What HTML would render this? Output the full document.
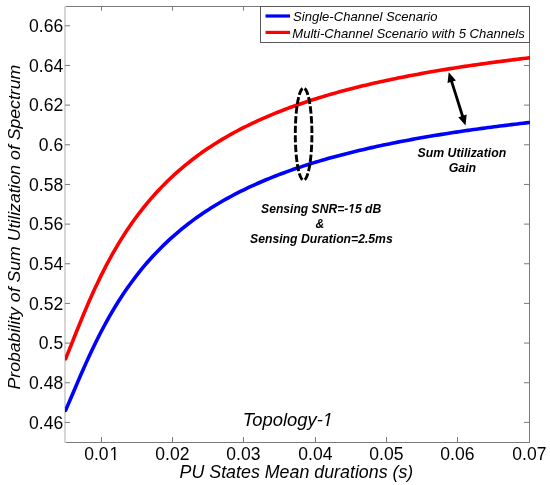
<!DOCTYPE html>
<html><head><meta charset="utf-8"><title>Probability of Sum Utilization of Spectrum</title>
<style>
html,body{margin:0;padding:0;background:#fff;}
body{width:550px;height:485px;overflow:hidden;}
svg{display:block;}
text{font-family:'Liberation Sans', Arial, Helvetica, sans-serif;fill:#000;}
.i{font-style:italic;}
.b{font-weight:bold;}
</style></head><body>
<svg width="550" height="485" viewBox="0 0 550 485">
<rect x="0" y="0" width="550" height="485" fill="#fff"/>

<text font-size="18" text-anchor="middle" transform="translate(101.79,460.4) scale(0.975,1)">0.0<tspan dx="1.0">1</tspan></text>
<text font-size="18" text-anchor="middle" transform="translate(172.40,460.4) scale(0.975,1)">0.02</text>
<text font-size="18" text-anchor="middle" transform="translate(243.40,460.4) scale(0.975,1)">0.03</text>
<text font-size="18" text-anchor="middle" transform="translate(315.40,460.4) scale(0.975,1)">0.04</text>
<text font-size="18" text-anchor="middle" transform="translate(386.40,460.4) scale(0.975,1)">0.05</text>
<text font-size="18" text-anchor="middle" transform="translate(457.40,460.4) scale(0.975,1)">0.06</text>
<text font-size="18" text-anchor="middle" transform="translate(529.40,460.4) scale(0.975,1)">0.07</text>
<text font-size="18" text-anchor="end" transform="translate(63.2,428.5) scale(0.975,1)">0.46</text>
<text font-size="18" text-anchor="end" transform="translate(63.2,388.8) scale(0.975,1)">0.48</text>
<text font-size="18" text-anchor="end" transform="translate(63.2,349.2) scale(0.975,1)">0.5</text>
<text font-size="18" text-anchor="end" transform="translate(63.2,309.5) scale(0.975,1)">0.52</text>
<text font-size="18" text-anchor="end" transform="translate(63.2,269.9) scale(0.975,1)">0.54</text>
<text font-size="18" text-anchor="end" transform="translate(63.2,230.2) scale(0.975,1)">0.56</text>
<text font-size="18" text-anchor="end" transform="translate(63.2,190.5) scale(0.975,1)">0.58</text>
<text font-size="18" text-anchor="end" transform="translate(63.2,150.9) scale(0.975,1)">0.6</text>
<text font-size="18" text-anchor="end" transform="translate(63.2,111.2) scale(0.975,1)">0.62</text>
<text font-size="18" text-anchor="end" transform="translate(63.2,71.6) scale(0.975,1)">0.64</text>
<text font-size="18" text-anchor="end" transform="translate(63.2,31.9) scale(0.975,1)">0.66</text>
<line x1="65" y1="6.5" x2="530" y2="6.5" stroke="#7a7a7a" stroke-width="1"/>
<line x1="65" y1="442.5" x2="530" y2="442.5" stroke="#7a7a7a" stroke-width="1"/>
<line x1="65.0" y1="6" x2="65.0" y2="443" stroke="#d6d6d6" stroke-width="2"/>
<line x1="529.5" y1="6" x2="529.5" y2="443" stroke="#7a7a7a" stroke-width="1"/>
<line x1="101.5" y1="442" x2="101.5" y2="437" stroke="#7a7a7a" stroke-width="1"/>
<line x1="101.5" y1="7" x2="101.5" y2="10.6" stroke="#7a7a7a" stroke-width="1"/>
<line x1="172.5" y1="442" x2="172.5" y2="437" stroke="#7a7a7a" stroke-width="1"/>
<line x1="172.5" y1="7" x2="172.5" y2="10.6" stroke="#7a7a7a" stroke-width="1"/>
<line x1="243.5" y1="442" x2="243.5" y2="437" stroke="#7a7a7a" stroke-width="1"/>
<line x1="243.5" y1="7" x2="243.5" y2="10.6" stroke="#7a7a7a" stroke-width="1"/>
<line x1="315.5" y1="442" x2="315.5" y2="437" stroke="#7a7a7a" stroke-width="1"/>
<line x1="315.5" y1="7" x2="315.5" y2="10.6" stroke="#7a7a7a" stroke-width="1"/>
<line x1="386.5" y1="442" x2="386.5" y2="437" stroke="#7a7a7a" stroke-width="1"/>
<line x1="386.5" y1="7" x2="386.5" y2="10.6" stroke="#7a7a7a" stroke-width="1"/>
<line x1="457.5" y1="442" x2="457.5" y2="437" stroke="#7a7a7a" stroke-width="1"/>
<line x1="457.5" y1="7" x2="457.5" y2="10.6" stroke="#7a7a7a" stroke-width="1"/>
<line x1="529.5" y1="442" x2="529.5" y2="437" stroke="#7a7a7a" stroke-width="1"/>
<line x1="529.5" y1="7" x2="529.5" y2="10.6" stroke="#7a7a7a" stroke-width="1"/>
<line x1="65" y1="422.40" x2="70" y2="422.40" stroke="#7a7a7a" stroke-width="1"/>
<line x1="529" y1="422.40" x2="524" y2="422.40" stroke="#7a7a7a" stroke-width="1"/>
<line x1="65" y1="382.74" x2="70" y2="382.74" stroke="#7a7a7a" stroke-width="1"/>
<line x1="529" y1="382.74" x2="524" y2="382.74" stroke="#7a7a7a" stroke-width="1"/>
<line x1="65" y1="343.08" x2="70" y2="343.08" stroke="#7a7a7a" stroke-width="1"/>
<line x1="529" y1="343.08" x2="524" y2="343.08" stroke="#7a7a7a" stroke-width="1"/>
<line x1="65" y1="303.42" x2="70" y2="303.42" stroke="#7a7a7a" stroke-width="1"/>
<line x1="529" y1="303.42" x2="524" y2="303.42" stroke="#7a7a7a" stroke-width="1"/>
<line x1="65" y1="263.76" x2="70" y2="263.76" stroke="#7a7a7a" stroke-width="1"/>
<line x1="529" y1="263.76" x2="524" y2="263.76" stroke="#7a7a7a" stroke-width="1"/>
<line x1="65" y1="224.10" x2="70" y2="224.10" stroke="#7a7a7a" stroke-width="1"/>
<line x1="529" y1="224.10" x2="524" y2="224.10" stroke="#7a7a7a" stroke-width="1"/>
<line x1="65" y1="184.44" x2="70" y2="184.44" stroke="#7a7a7a" stroke-width="1"/>
<line x1="529" y1="184.44" x2="524" y2="184.44" stroke="#7a7a7a" stroke-width="1"/>
<line x1="65" y1="144.78" x2="70" y2="144.78" stroke="#7a7a7a" stroke-width="1"/>
<line x1="529" y1="144.78" x2="524" y2="144.78" stroke="#7a7a7a" stroke-width="1"/>
<line x1="65" y1="105.12" x2="70" y2="105.12" stroke="#7a7a7a" stroke-width="1"/>
<line x1="529" y1="105.12" x2="524" y2="105.12" stroke="#7a7a7a" stroke-width="1"/>
<line x1="65" y1="65.46" x2="70" y2="65.46" stroke="#7a7a7a" stroke-width="1"/>
<line x1="529" y1="65.46" x2="524" y2="65.46" stroke="#7a7a7a" stroke-width="1"/>
<line x1="65" y1="25.80" x2="70" y2="25.80" stroke="#7a7a7a" stroke-width="1"/>
<line x1="529" y1="25.80" x2="524" y2="25.80" stroke="#7a7a7a" stroke-width="1"/>
<defs><clipPath id="axclip"><rect x="65" y="6" width="465" height="436"/></clipPath></defs>
<g clip-path="url(#axclip)" fill="none" stroke-width="3.6" stroke-linejoin="round" stroke-linecap="round">
<polyline points="65.60,410.30 68.51,403.62 71.43,396.81 74.34,389.95 77.26,383.11 80.17,376.33 83.09,369.66 86.00,363.11 88.92,356.71 91.83,350.48 94.74,344.41 97.66,338.51 100.57,332.79 103.49,327.25 106.40,321.88 109.32,316.68 112.23,311.65 115.15,306.78 118.06,302.07 120.97,297.51 123.89,293.10 126.80,288.83 129.72,284.70 132.63,280.71 135.55,276.84 138.46,273.09 141.38,269.46 144.29,265.94 147.21,262.53 150.12,259.23 153.03,256.02 155.95,252.91 158.86,249.89 161.78,246.96 164.69,244.12 167.61,241.35 170.52,238.67 173.44,236.06 176.35,233.52 179.26,231.05 182.18,228.65 185.09,226.31 188.01,224.04 190.92,221.82 193.84,219.66 196.75,217.56 199.67,215.51 202.58,213.51 205.49,211.56 208.41,209.66 211.32,207.80 214.24,205.99 217.15,204.22 220.07,202.50 222.98,200.81 225.90,199.16 228.81,197.55 231.72,195.98 234.64,194.44 237.55,192.93 240.47,191.46 243.38,190.02 246.30,188.61 249.21,187.23 252.13,185.88 255.04,184.56 257.95,183.26 260.87,181.99 263.78,180.75 266.70,179.53 269.61,178.34 272.53,177.17 275.44,176.02 278.36,174.89 281.27,173.79 284.18,172.70 287.10,171.64 290.01,170.60 292.93,169.57 295.84,168.57 298.76,167.58 301.67,166.61 304.59,165.66 307.50,164.72 310.42,163.80 313.33,162.90 316.24,162.01 319.16,161.13 322.07,160.28 324.99,159.43 327.90,158.60 330.82,157.79 333.73,156.98 336.65,156.19 339.56,155.42 342.47,154.65 345.39,153.90 348.30,153.16 351.22,152.43 354.13,151.71 357.05,151.01 359.96,150.31 362.88,149.63 365.79,148.95 368.70,148.29 371.62,147.63 374.53,146.98 377.45,146.35 380.36,145.72 383.28,145.10 386.19,144.50 389.11,143.90 392.02,143.30 394.93,142.72 397.85,142.14 400.76,141.58 403.68,141.02 406.59,140.47 409.51,139.92 412.42,139.38 415.34,138.85 418.25,138.33 421.16,137.82 424.08,137.31 426.99,136.80 429.91,136.31 432.82,135.82 435.74,135.33 438.65,134.86 441.57,134.39 444.48,133.92 447.39,133.46 450.31,133.01 453.22,132.56 456.14,132.12 459.05,131.68 461.97,131.25 464.88,130.82 467.80,130.40 470.71,129.98 473.63,129.57 476.54,129.16 479.45,128.76 482.37,128.36 485.28,127.97 488.20,127.58 491.11,127.20 494.03,126.82 496.94,126.44 499.86,126.07 502.77,125.70 505.68,125.34 508.60,124.98 511.51,124.63 514.43,124.27 517.34,123.93 520.26,123.58 523.17,123.24 526.09,122.91 529.00,122.57" stroke="#0000ff"/>
<polyline points="65.60,358.73 68.51,351.58 71.43,344.31 74.34,337.02 77.26,329.75 80.17,322.57 83.09,315.50 86.00,308.59 88.92,301.83 91.83,295.26 94.74,288.86 97.66,282.66 100.57,276.65 103.49,270.82 106.40,265.19 109.32,259.73 112.23,254.46 115.15,249.35 118.06,244.42 120.97,239.65 123.89,235.04 126.80,230.58 129.72,226.26 132.63,222.08 135.55,218.04 138.46,214.13 141.38,210.34 144.29,206.67 147.21,203.11 150.12,199.66 153.03,196.32 155.95,193.08 158.86,189.94 161.78,186.88 164.69,183.92 167.61,181.04 170.52,178.25 173.44,175.53 176.35,172.89 179.26,170.32 182.18,167.82 185.09,165.39 188.01,163.03 190.92,160.72 193.84,158.48 196.75,156.29 199.67,154.16 202.58,152.08 205.49,150.06 208.41,148.08 211.32,146.16 214.24,144.28 217.15,142.44 220.07,140.65 222.98,138.90 225.90,137.19 228.81,135.52 231.72,133.88 234.64,132.28 237.55,130.72 240.47,129.20 243.38,127.70 246.30,126.24 249.21,124.81 252.13,123.41 255.04,122.04 257.95,120.69 260.87,119.38 263.78,118.09 266.70,116.82 269.61,115.58 272.53,114.37 275.44,113.18 278.36,112.01 281.27,110.87 284.18,109.74 287.10,108.64 290.01,107.56 292.93,106.50 295.84,105.46 298.76,104.43 301.67,103.43 304.59,102.44 307.50,101.47 310.42,100.52 313.33,99.58 316.24,98.66 319.16,97.76 322.07,96.87 324.99,96.00 327.90,95.14 330.82,94.29 333.73,93.46 336.65,92.64 339.56,91.84 342.47,91.05 345.39,90.27 348.30,89.50 351.22,88.75 354.13,88.00 357.05,87.27 359.96,86.55 362.88,85.84 365.79,85.14 368.70,84.46 371.62,83.78 374.53,83.11 377.45,82.45 380.36,81.80 383.28,81.16 386.19,80.53 389.11,79.91 392.02,79.30 394.93,78.70 397.85,78.10 400.76,77.52 403.68,76.94 406.59,76.37 409.51,75.80 412.42,75.25 415.34,74.70 418.25,74.16 421.16,73.62 424.08,73.10 426.99,72.58 429.91,72.06 432.82,71.56 435.74,71.06 438.65,70.56 441.57,70.08 444.48,69.60 447.39,69.12 450.31,68.65 453.22,68.19 456.14,67.73 459.05,67.28 461.97,66.83 464.88,66.39 467.80,65.95 470.71,65.52 473.63,65.10 476.54,64.67 479.45,64.26 482.37,63.85 485.28,63.44 488.20,63.04 491.11,62.64 494.03,62.25 496.94,61.86 499.86,61.48 502.77,61.10 505.68,60.72 508.60,60.35 511.51,59.99 514.43,59.62 517.34,59.26 520.26,58.91 523.17,58.56 526.09,58.21 529.00,57.87" stroke="#ff0000"/>
</g>
<rect x="260.5" y="6.5" width="269" height="36" fill="#fff" stroke="#585858" stroke-width="1"/>
<line x1="265.5" y1="16" x2="290" y2="16" stroke="#0000ff" stroke-width="3.2"/>
<line x1="265.5" y1="32.4" x2="290" y2="32.4" stroke="#ff0000" stroke-width="3.2"/>
<ellipse cx="303.6" cy="134.1" rx="8.3" ry="45.9" fill="none" stroke="#000" stroke-width="2.9" pathLength="200" stroke-dasharray="7.6,2.4" stroke-dashoffset="8.8"/>
<line x1="451.11" y1="79.83" x2="463.09" y2="117.77" stroke="#000" stroke-width="2.8"/><polygon points="448.70,72.20 447.52,83.06 455.91,80.41" fill="#000"/><polygon points="465.50,125.40 458.29,117.19 466.68,114.54" fill="#000"/>
<text class="i" font-size="12.6" transform="translate(293.07,20.8) scale(1.0363,1)">Single-Channel Scenario</text>
<text class="i" font-size="12.6" transform="translate(292.29,37.6) scale(1.0386,1)">Multi-Channel Scenario with 5 Channels</text>
<text class="i b" font-size="12.7" transform="translate(261.10,212.7) scale(0.9540,1)">Sensing SNR=-15 dB</text>
<text class="i b" font-size="12.7" transform="translate(315.40,227.6) scale(0.9600,1)">&amp;</text>
<text class="i b" font-size="12.7" transform="translate(250.09,242.6) scale(0.9617,1)">Sensing Duration=2.5ms</text>
<text class="i b" font-size="12.7" transform="translate(417.52,157.4) scale(0.9675,1)">Sum Utilization</text>
<text class="i b" font-size="12.7" transform="translate(448.77,172.0) scale(0.9711,1)">Gain</text>
<text class="i" font-size="17.7" transform="translate(242.81,425.7) scale(1.0387,1)">Topology-1</text>
<text class="i" font-size="17.5" transform="translate(179.59,477.7) scale(1.0184,1)">PU States Mean durations (s)</text>
<text class="i" font-size="17.3" transform="translate(20.1,389.51) rotate(-90) scale(1.0215,1)">Probability of Sum Utilization of Spectrum</text>
<rect x="109" y="458" width="5" height="2" fill="#fff"/>
<rect x="115.45" y="458" width="3.6" height="2" fill="#fff"/>
<rect x="322" y="424" width="4.6" height="2" fill="#fff"/>
<rect x="328.3" y="424" width="3.7" height="2" fill="#fff"/>
<rect x="348" y="211" width="2.6" height="2" fill="#fff"/>
<rect x="352.3" y="211" width="2.0" height="2" fill="#fff"/>
</svg>
</body></html>
